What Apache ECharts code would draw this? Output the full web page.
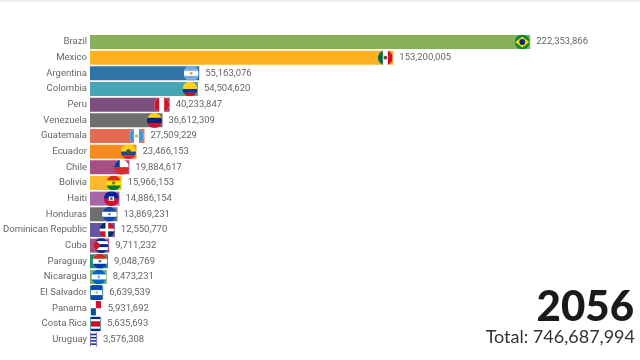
<!DOCTYPE html>
<html>
<head>
<meta charset="utf-8">
<style>
  html, body { margin: 0; padding: 0; background: #fff; }
  #chart { width: 640px; height: 360px; }
</style>
<script src="https://cdn.jsdelivr.net/npm/echarts@6/dist/echarts.min.js"></script>
</head>
<body>
<div id="chart"></div>
<script>
const countries = ['Brazil', 'Mexico', 'Argentina', 'Colombia', 'Peru', 'Venezuela', 'Guatemala', 'Ecuador', 'Chile', 'Bolivia', 'Haiti', 'Honduras', 'Dominican Republic', 'Cuba', 'Paraguay', 'Nicaragua', 'El Salvador', 'Panama', 'Costa Rica', 'Uruguay'];
const population = [222353866, 153200005, 55163076, 54504620, 40233847, 36612309, 27509229, 23466153, 19884617, 15966153, 14886154, 13869231, 12550770, 9711232, 9048769, 8473231, 6639539, 5931692, 5635693, 3576308];
const barColors = ['#86b05a', '#fdb022', '#2f74a6', '#45a5b5', '#7d4f7e', '#6e6e6e', '#e56b55', '#f58b1f', '#a54f85', '#fdb92e', '#a766a9', '#6e6e6e', '#66569f', '#a54f85', '#1f8a72', '#79b158', '#1c7a86', '#f4f0f0', '#3a9fa0', '#8a5aa6'];
const year = '2056';
const totalText = 'Total: 746,687,994';

// flags drawn on a 28x28 box, cut to a circle by flagUri
const hBands = (a, b, c) => `<rect width="28" height="28" fill="${b}"/><rect width="28" height="9.3" fill="${a}"/><rect y="18.7" width="28" height="9.3" fill="${c}"/>`;
const vBands = (a, b, c) => `<rect width="28" height="28" fill="${b}"/><rect width="9.3" height="28" fill="${a}"/><rect x="18.7" width="9.3" height="28" fill="${c}"/>`;
const dot = (r, fill) => `<circle cx="14" cy="14" r="${r}" fill="${fill}"/>`;
const flags = {
  Brazil: `<rect width="28" height="28" fill="#0a8a3a"/><path d="M14 4L27 14L14 24L1 14Z" fill="#fedf00"/>${dot(5.5, '#12276e')}`,
  Mexico: vBands('#0b6847', '#fff', '#ce1126') + dot(3.5, '#6b4a2a'),
  Argentina: hBands('#74acdf', '#fff', '#74acdf') + dot(2.5, '#d9a72e'),
  Colombia: `<rect width="28" height="14" fill="#fcd116"/><rect y="14" width="28" height="7" fill="#003893"/><rect y="21" width="28" height="7" fill="#ce1126"/>`,
  Peru: vBands('#d91023', '#fff', '#d91023'),
  Venezuela: hBands('#fcd116', '#00247d', '#cf142b'),
  Guatemala: vBands('#4997d0', '#fff', '#4997d0') + dot(3, '#9fb98f'),
  Ecuador: `<rect width="28" height="14" fill="#fcd116"/><rect y="14" width="28" height="7" fill="#034ea2"/><rect y="21" width="28" height="7" fill="#ed1c24"/>${dot(4.5, '#5a4a32')}`,
  Chile: `<rect width="28" height="14" fill="#fff"/><rect y="14" width="28" height="14" fill="#d72b2f"/><rect width="11" height="14" fill="#0b3b9a"/>`,
  Bolivia: hBands('#d52b1e', '#f9e300', '#007934') + dot(3, '#8a6a2a'),
  Haiti: `<rect width="28" height="14" fill="#00209f"/><rect y="14" width="28" height="14" fill="#d21034"/><rect x="9" y="10" width="10" height="8" fill="#fff"/>${dot(2.5, '#3c6e47')}`,
  Honduras: hBands('#0f47af', '#fff', '#0f47af') + dot(2, '#0f47af'),
  'Dominican Republic': `<rect width="14" height="14" fill="#002d62"/><rect x="14" width="14" height="14" fill="#ce1126"/><rect y="14" width="14" height="14" fill="#ce1126"/><rect x="14" y="14" width="14" height="14" fill="#002d62"/><rect x="11.5" width="5" height="28" fill="#fff"/><rect y="11.5" width="28" height="5" fill="#fff"/>`,
  Cuba: `<rect width="28" height="28" fill="#fff"/><rect width="28" height="5.6" fill="#002a8f"/><rect y="11.2" width="28" height="5.6" fill="#002a8f"/><rect y="22.4" width="28" height="5.6" fill="#002a8f"/><path d="M0 0L13 14L0 28Z" fill="#cf142b"/>`,
  Paraguay: hBands('#d52b1e', '#fff', '#0038a8') + dot(2.5, '#4c7a3d'),
  Nicaragua: hBands('#0067c6', '#fff', '#0067c6') + dot(2.5, '#6fa8d6'),
  'El Salvador': hBands('#0f47af', '#fff', '#0f47af') + dot(2.5, '#9fb98f'),
  Panama: `<rect width="28" height="28" fill="#fff"/><rect x="14" width="14" height="14" fill="#d21034"/><rect y="14" width="14" height="14" fill="#005293"/>`,
  'Costa Rica': `<rect width="28" height="28" fill="#fff"/><rect width="28" height="5" fill="#002b7f"/><rect y="23" width="28" height="5" fill="#002b7f"/><rect y="9" width="28" height="10" fill="#ce1126"/>`,
  Uruguay: `<rect width="28" height="28" fill="#fff"/><rect y="3" width="28" height="3" fill="#0038a8"/><rect y="9" width="28" height="3" fill="#0038a8"/><rect y="15" width="28" height="3" fill="#0038a8"/><rect y="21" width="28" height="3" fill="#0038a8"/>`
};

const flagUri = (name, radius) => 'data:image/svg+xml;charset=utf-8,' + encodeURIComponent(
  `<svg xmlns="http://www.w3.org/2000/svg" width="56" height="56" viewBox="0 0 28 28" preserveAspectRatio="none"><clipPath id="c"><rect width="28" height="28" rx="${radius}" ry="${radius}"/></clipPath><g clip-path="url(#c)">${flags[name]}</g></svg>`
);

const font = 'Lato, "Noto Sans", sans-serif';
const labelFont = 'Roboto, Lato, sans-serif';
const chart = echarts.init(document.getElementById('chart'));

chart.setOption({
  animation: false,
  backgroundColor: '#fff',
  grid: { left: 90, top: 34.2, width: 495, height: 313.2, outerBoundsMode: 'none' },
  xAxis: { type: 'value', min: 0, max: 250000000, show: false },
  yAxis: {
    type: 'category',
    inverse: true,
    data: countries,
    axisLine: { show: false },
    axisTick: { show: false },
    axisLabel: { color: '#666', fontFamily: labelFont, fontSize: 9.5, margin: 3, interval: 0 }
  },
  series: [
    {
      type: 'bar',
      barWidth: 14,
      data: population.map((value, i) => ({ value, itemStyle: { color: barColors[i] } })),
      label: {
        show: true,
        position: 'right',
        distance: 6,
        color: '#666',
        fontFamily: labelFont,
        fontSize: 9.5,
        formatter: p => p.value.toLocaleString('en-US')
      }
    },
    {
      type: 'custom',
      silent: true,
      clip: false,
      z: 3,
      encode: { x: 0, y: 1 },
      data: population.map((value, i) => [value, i]),
      renderItem(params, api) {
        const end = api.coord([api.value(0), api.value(1)]);
        const start = api.coord([0, api.value(1)]);
        const d = 15;
        // short bars squeeze the flag to fit inside the bar, and it loses its round shape
        const w = Math.min(d, end[0] - start[0] - 1);
        const radius = w < d ? 4 : 14;
        return {
          type: 'image',
          style: {
            image: flagUri(countries[params.dataIndex], radius),
            x: end[0] - w - 0.5,
            y: end[1] - d / 2,
            width: w,
            height: d
          }
        };
      }
    }
  ],
  graphic: [
    { type: 'rect', shape: { x: 0, y: 0, width: 640, height: 2 }, style: { fill: '#eeeeee' } },
    {
      type: 'text',
      right: 6,
      top: 286,
      style: { text: year, font: `900 42px ${font}`, fill: '#1a1a1a', textAlign: 'right' }
    },
    {
      type: 'text',
      right: 5,
      top: 328,
      style: { text: totalText, font: `400 18px ${font}`, fill: '#333', textAlign: 'right' }
    }
  ]
});
</script>
</body>
</html>
